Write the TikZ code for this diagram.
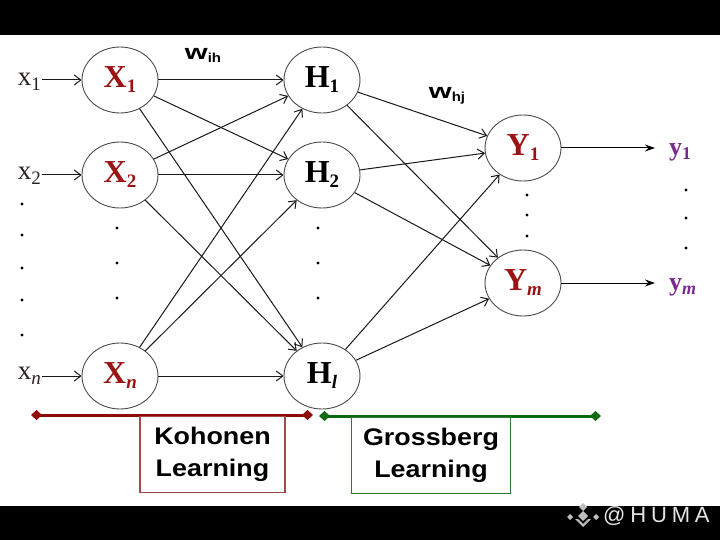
\documentclass[tikz,border=0pt]{standalone}
\usepackage{fontspec}
\setmainfont{Liberation Serif}
\setsansfont{Liberation Sans}
\newfontfamily\wmfont[LetterSpace=22]{Liberation Sans}
\usetikzlibrary{shapes.geometric,arrows.meta}
\definecolor{nred}{HTML}{9A1414}
\definecolor{opurple}{HTML}{7A2C8C}
\definecolor{kred}{HTML}{8E0B0B}
\definecolor{kbox}{HTML}{A04A4A}
\definecolor{ggreen}{HTML}{0E6A12}
\definecolor{gbox}{HTML}{2F7A33}
\definecolor{inpcol}{HTML}{2A2220}
\newcommand{\neur}[3]{{\fontsize{32}{32}\selectfont\bfseries\color{#1}#2\raisebox{-5pt}{\fontsize{19}{19}\selectfont #3}}}
\newcommand{\inlab}[1]{{\fontsize{27}{27}\selectfont x\raisebox{-5pt}{\fontsize{19}{19}\selectfont #1}}}
\newcommand{\outlab}[1]{{\fontsize{26}{26}\selectfont\bfseries y\raisebox{-4pt}{\fontsize{18}{18}\selectfont #1}}}
\newcommand{\wlab}[1]{{\sffamily\bfseries\scalebox{1.4}[1]{\fontsize{21}{21}\selectfont w}\raisebox{-3pt}{\scalebox{1.15}[1]{\fontsize{13}{13}\selectfont #1}}}}
\newcommand{\sline}[1]{\scalebox{1.12}[1]{#1}}
\begin{document}
\begin{tikzpicture}[x=1pt,y=-1pt,
  neuron/.style={ellipse,draw=black!70,line width=0.9pt,minimum width=76pt,minimum height=66pt,inner sep=0pt},
  conn/.style={draw=black!90,line width=1pt,-{Straight Barb[length=6.5pt,width=10pt]}},
  outarrow/.style={draw=black,line width=1pt,-{Stealth[length=10pt,width=7pt]},shorten >=13pt},
  dotm/.style={fill=black},
  lbox/.style={rectangle,line width=1.1pt,minimum width=#1,minimum height=76pt,align=center,font=\sffamily\bfseries\fontsize{24}{32}\selectfont,inner sep=0pt},
  bar/.style={line width=3pt,{Diamond[length=11pt,width=10pt]}-{Diamond[length=11pt,width=10pt]}}
]
\useasboundingbox (0,0) rectangle (720,540);
\fill[white] (0,0) rectangle (720,540);
\fill[black] (0,0) rectangle (720,35);
\fill[black] (0,506) rectangle (720,540);

% neurons
\node[neuron] (X1) at (120,80) {\neur{nred}{X}{1}};
\node[neuron] (X2) at (120,175) {\neur{nred}{X}{2}};
\node[neuron] (Xn) at (120,376) {\neur{nred}{X}{\textit{n}}};
\node[neuron] (H1) at (322,80) {\neur{black}{H}{1}};
\node[neuron] (H2) at (322,175) {\neur{black}{H}{2}};
\node[neuron] (Hl) at (322,376) {\neur{black}{H}{\textit{l}}};
\node[neuron] (Y1) at (523,148) {\neur{nred}{Y}{1}};
\node[neuron] (Ym) at (523,283) {\neur{nred}{Y}{\textit{m}}};

% inputs
\node[inner sep=1pt,text=inpcol,anchor=east] (x1) at (42,82) {\inlab{1}};
\node[inner sep=1pt,text=inpcol,anchor=east] (x2) at (42,176) {\inlab{2}};
\node[inner sep=1pt,text=inpcol,anchor=east] (xn) at (42,376) {\inlab{\textit{n}}};
\foreach \s in {1,2,n} \draw[conn] (x\s.east |- X\s) -- (X\s);

% outputs
\node[inner sep=1pt,text=opurple,anchor=west] (y1) at (668,152) {\outlab{1}};
\node[inner sep=1pt,text=opurple,anchor=west] (ym) at (668,287) {\outlab{\textit{m}}};
\draw[outarrow] (Y1.east) -- (y1.west |- Y1.east);
\draw[outarrow] (Ym.east) -- (ym.west |- Ym.east);

% connections
\foreach \a in {X1,X2,Xn} \foreach \b in {H1,H2,Hl} \draw[conn] (\a) -- (\b);
\foreach \a in {H1,H2,Hl} \foreach \b in {Y1,Ym} \draw[conn] (\a) -- (\b);

% weight labels
\node (wih) at (203,55) {\wlab{ih}};
\node (whj) at (447,96) {\wlab{hj}};

% dots
\foreach \y in {204,235,268,300,335} \fill[dotm] (22,\y) circle (1.6pt);
\foreach \y in {228,263,298} \fill[dotm] (117,\y) circle (1.6pt);
\foreach \y in {228,263,298} \fill[dotm] (318,\y) circle (1.6pt);
\foreach \y in {195,215,236} \fill[dotm] (527,\y) circle (1.6pt);
\foreach \y in {190,218,248} \fill[dotm] (686,\y) circle (1.6pt);

% learning bars
\coordinate (k1) at (31,415);
\coordinate (k2) at (313,415);
\coordinate (g1) at (319,416);
\coordinate (g2) at (601,416);
\draw[bar,kred] (k1) -- (k2);
\draw[bar,ggreen] (g1) -- (g2);
\node[lbox=145pt,draw=kbox,anchor=north] (kl) at (212.5,416) {\sline{Kohonen}\\\sline{Learning}};
\node[lbox=159pt,draw=gbox,anchor=north] (gl) at (431,417) {\sline{Grossberg}\\\sline{Learning}};

% watermark
\node[text=white!90!black,font=\wmfont\fontsize{22}{22}\selectfont,anchor=west,inner sep=0pt] (wm) at (603,516) {@HUMA};
\begin{scope}[fill=black!25]
\fill (583,503) -- (587,507) -- (583,511) -- (579,507) -- cycle;
\fill (570,514) -- (573,517) -- (570,520) -- (567,517) -- cycle;
\fill (596,514) -- (599,517) -- (596,520) -- (593,517) -- cycle;
\fill (583,511) -- (588,516) -- (583,521) -- (578,516) -- cycle;
\fill (575,519) -- (583,527) -- (591,519) -- (588,519) -- (583,524) -- (578,519) -- cycle;
\end{scope}
\end{tikzpicture}
\end{document}
